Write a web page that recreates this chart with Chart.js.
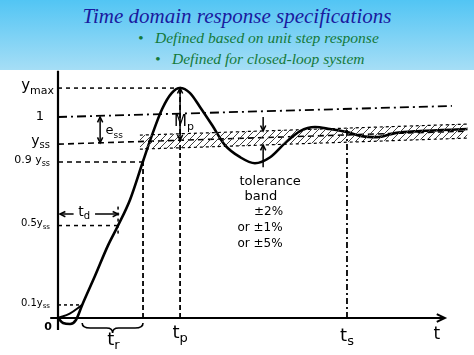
<!DOCTYPE html>
<html>
<head>
<meta charset="utf-8">
<script src="https://cdn.jsdelivr.net/npm/chart.js@4/dist/chart.umd.min.js"></script>
<style>
  html, body { margin: 0; padding: 0; background: #fff; }
  body { width: 474px; height: 355px; position: relative; overflow: hidden; }
  #hdr { position: absolute; left: 0; top: 0; width: 474px; height: 70px;
         background: linear-gradient(#52c5f4, #a6def6); }
  #hdr div { position: absolute; white-space: nowrap; font-family: "Liberation Serif", serif; font-style: italic; }
  .t1 { left: 0; width: 474px; text-align: center; top: 4px; font-size: 21px; color: #1a1a9e; }
  .b { font-size: 15.5px; color: #14793a; }
  .b1 { left: 138px; top: 29px; }
  .b2 { left: 155px; top: 50px; }
  #wrap { position: absolute; left: 0; top: 70px; width: 474px; height: 285px; }
</style>
</head>
<body>
<div id="hdr">
  <div class="t1">Time domain response specifications</div>
  <div class="b b1">•&nbsp;&nbsp;&nbsp;Defined based on unit step response</div>
  <div class="b b2">•&nbsp;&nbsp;&nbsp;Defined for closed-loop system</div>
</div>
<div id="wrap"><canvas id="myChart" width="474" height="285"></canvas></div>
<script>
// step response
const tData = [0, 0.13, 0.31, 0.46, 0.62, 0.95, 1.28, 1.54, 1.85, 2.18, 2.41, 2.67, 2.92, 3.13, 3.38, 3.64, 3.95, 4.28, 4.67, 5.05, 5.44, 5.82, 6.21, 6.59, 6.97, 7.41, 7.79, 8.18, 8.64, 9.28, 10.5];
const yData = [0, -0.025, -0.03, -0.01, 0.065, 0.21, 0.36, 0.46, 0.59, 0.78, 0.91, 1.04, 1.12, 1.144, 1.12, 1.05, 0.96, 0.86, 0.80, 0.77, 0.80, 0.87, 0.93, 0.95, 0.94, 0.925, 0.905, 0.90, 0.92, 0.93, 0.94];
// second stroke near the origin
const tEarly = [0, 0.3, 0.62];
const yEarly = [0, 0.022, 0.065];

// levels and times
const yMax = 1.144;
const ySet = [1.0, 1.055];        // "1" line, start / end
const yssLine = [0.865, 0.93];    // y_ss line, start / end
const bandX = [2.1, 10.5];
const bandUpper = [0.91, 0.965];
const bandLower = [0.84, 0.895];
const y90 = 0.776, y50 = 0.46, y10 = 0.065;
const tD = 1.54, tR = [0.62, 2.18], tP = 3.13, tS = 7.41;
const tEnd = 10.5, tArrow = 9.92;

function pts(xs, ys) { return xs.map((v, i) => ({ x: v, y: ys[i] })); }
function hline(x0, x1, v) { return [{ x: x0, y: v }, { x: x1, y: v }]; }
function vline(xv, v0, v1) { return [{ x: xv, y: v0 }, { x: xv, y: v1 }]; }

function hatch() {
  const c = document.createElement('canvas');
  c.width = 7; c.height = 7;
  const g = c.getContext('2d');
  g.strokeStyle = '#444';
  g.lineWidth = 1;
  g.beginPath(); g.moveTo(0, 7); g.lineTo(7, 0); g.stroke();
  return g.createPattern(c, 'repeat');
}

function dashed(data, dash, w) {
  return { data: data, borderColor: '#000', borderWidth: w || 1.5, borderDash: dash || [5, 4], fill: false };
}

const datasets = [
  dashed(pts(bandX, bandUpper), [3, 3], 1.2),
  Object.assign(dashed(pts(bandX, bandLower), [3, 3], 1.2), { fill: '-1', backgroundColor: hatch() }),
  dashed(pts([0, tEnd], yssLine), [6, 4], 1.6),
  dashed(pts([0, 10.1], ySet), [9, 4, 2, 4], 1.8),
  dashed(hline(0, tP, yMax), [4, 4]),
  dashed(hline(0, tR[1], y90), [5, 4]),
  dashed(hline(0, tD, y50), [4, 4]),
  dashed(hline(0, tR[0], y10), [3, 3]),
  dashed(vline(tD, 0.42, 0.57), [3, 3]),
  dashed(vline(tR[1], 0, y90), [5, 3], 1.8),
  dashed(vline(tP, 0, yMax), [5, 3], 1.8),
  dashed(vline(tS, 0, 0.935), [6, 3, 2, 3], 1.8),
  { data: hline(-0.2, tArrow, 0), borderColor: '#000', borderWidth: 2.2, fill: false },
  { data: vline(0, -0.06, 1.23), borderColor: '#000', borderWidth: 2.2, fill: false },
  { data: pts(tEarly, yEarly), borderColor: '#000', borderWidth: 2, tension: 0.4, fill: false },
  { data: pts(tData, yData), borderColor: '#000', borderWidth: 2.6, cubicInterpolationMode: 'monotone', fill: false }
];

function sub(ctx, base, s, x, y, size, align) {
  ctx.font = size + 'px "DejaVu Sans"';
  const wb = ctx.measureText(base).width;
  ctx.font = Math.round(size * 0.72) + 'px "DejaVu Sans"';
  const ws = ctx.measureText(s).width;
  let x0 = x;
  if (align === 'right') x0 = x - wb - ws;
  if (align === 'center') x0 = x - (wb + ws) / 2;
  ctx.textAlign = 'left';
  ctx.textBaseline = 'middle';
  ctx.font = size + 'px "DejaVu Sans"';
  ctx.fillText(base, x0, y);
  ctx.font = Math.round(size * 0.72) + 'px "DejaVu Sans"';
  ctx.fillText(s, x0 + wb, y + size * 0.32);
}

function head(ctx, x, y, ang, len) {
  ctx.beginPath();
  ctx.moveTo(x - len * Math.cos(ang - 0.45), y - len * Math.sin(ang - 0.45));
  ctx.lineTo(x, y);
  ctx.lineTo(x - len * Math.cos(ang + 0.45), y - len * Math.sin(ang + 0.45));
  ctx.stroke();
}

function arrow(ctx, x0, y0, x1, y1, both) {
  ctx.beginPath(); ctx.moveTo(x0, y0); ctx.lineTo(x1, y1); ctx.stroke();
  const a = Math.atan2(y1 - y0, x1 - x0);
  head(ctx, x1, y1, a, 6);
  if (both) head(ctx, x0, y0, a + Math.PI, 6);
}

const annot = {
  id: 'annot',
  afterDatasetsDraw(chart) {
    const { ctx, scales: { x, y } } = chart;
    const px = v => x.getPixelForValue(v);
    const py = v => y.getPixelForValue(v);
    const yssAt = t => yssLine[0] + (yssLine[1] - yssLine[0]) * t / tEnd;
    const bandAt = (arr, t) => arr[0] + (arr[1] - arr[0]) * (t - bandX[0]) / (bandX[1] - bandX[0]);
    ctx.save();
    ctx.fillStyle = '#000';
    ctx.strokeStyle = '#000';
    ctx.lineWidth = 2;

    // axis arrow
    head(ctx, px(tArrow), py(0), 0, 9);

    ctx.lineWidth = 1.5;
    // e_ss
    arrow(ctx, px(1.08), py(1.0), px(1.08), py(yssAt(1.08)), true);
    // M_p
    arrow(ctx, px(tP), py(yMax), px(tP), py(yssAt(tP)), true);
    // t_d
    arrow(ctx, px(0.05), py(0.517), px(tD), py(0.517), true);
    ctx.fillStyle = '#fff';
    ctx.fillRect(px(0.4), py(0.517) - 8, px(0.95) - px(0.4), 14);
    ctx.fillStyle = '#000';
    // tolerance band arrows
    arrow(ctx, px(5.26), py(1.0), px(5.26), py(bandAt(bandUpper, 5.26)), false);
    arrow(ctx, px(5.26), py(0.75), px(5.26), py(bandAt(bandLower, 5.26)), false);

    // brace under t_r
    const b0 = px(tR[0]), b1 = px(tR[1]), bm = (b0 + b1) / 2, by = py(0) + 5;
    ctx.lineWidth = 1.6;
    ctx.beginPath();
    ctx.moveTo(b0, by);
    ctx.quadraticCurveTo(b0, by + 5, b0 + 8, by + 5);
    ctx.lineTo(bm - 6, by + 5);
    ctx.quadraticCurveTo(bm, by + 5, bm, by + 10);
    ctx.quadraticCurveTo(bm, by + 5, bm + 6, by + 5);
    ctx.lineTo(b1 - 8, by + 5);
    ctx.quadraticCurveTo(b1, by + 5, b1, by);
    ctx.stroke();

    // level labels on the left
    const ax = px(0) - 4;
    sub(ctx, 'y', 'max', ax, py(yMax) - 2, 15, 'right');
    ctx.font = '13px "DejaVu Sans"'; ctx.textAlign = 'right'; ctx.textBaseline = 'middle';
    ctx.fillText('1', ax - 10, py(1.0));
    sub(ctx, 'y', 'ss', ax - 4, py(yssLine[0]) - 3, 14, 'right');
    sub(ctx, '0.9 y', 'ss', ax - 4, py(y90) - 2, 11, 'right');
    sub(ctx, '0.5y', 'ss', ax - 4, py(y50) - 2, 10, 'right');
    sub(ctx, '0.1y', 'ss', ax - 4, py(y10) - 2, 10, 'right');
    ctx.font = 'bold 11px "DejaVu Sans"'; ctx.textAlign = 'right';
    ctx.fillText('0', ax - 2, py(0) + 9);

    // labels in the plot
    sub(ctx, 'e', 'ss', px(1.22), py(0.93), 13, 'left');
    sub(ctx, 'M', 'p', px(tP) + 4, py(0.975), 15, 'center');
    sub(ctx, 't', 'd', px(0.67), py(0.517) - 2, 14, 'center');

    // time labels
    sub(ctx, 't', 'r', px(1.42), py(0) + 22, 18, 'center');
    sub(ctx, 't', 'p', px(tP), py(0) + 15, 18, 'center');
    sub(ctx, 't', 's', px(tS), py(0) + 18, 18, 'center');
    ctx.font = '17px "DejaVu Sans"'; ctx.textAlign = 'center'; ctx.textBaseline = 'middle';
    ctx.fillText('t', px(tArrow) - 8, py(0) + 17);

    // tolerance band note
    ctx.font = '13px "DejaVu Sans"';
    ctx.fillText('tolerance', px(5.44), py(0.677));
    ctx.fillText('band', px(5.2), py(0.602));
    ctx.font = '12px "DejaVu Sans"';
    ctx.fillText('±2%', px(5.4), py(0.527));
    ctx.fillText('or ±1%', px(5.18), py(0.448));
    ctx.fillText('or ±5%', px(5.18), py(0.368));
    ctx.restore();
  }
};

const ctx = document.getElementById('myChart').getContext('2d');
const myChart = new Chart(ctx, {
  type: 'line',
  data: { datasets: datasets },
  options: {
    responsive: false,
    animation: false,
    events: [],
    clip: false,
    layout: { padding: { left: 46.3, right: 2.6, top: 2.8, bottom: 16.9 } },
    elements: { point: { radius: 0 } },
    plugins: { legend: { display: false }, tooltip: { enabled: false } },
    scales: {
      x: { type: 'linear', display: false, min: -0.3, max: 10.6 },
      y: { type: 'linear', display: false, min: -0.1, max: 1.22 }
    }
  },
  plugins: [annot]
});
</script>
</body>
</html>
